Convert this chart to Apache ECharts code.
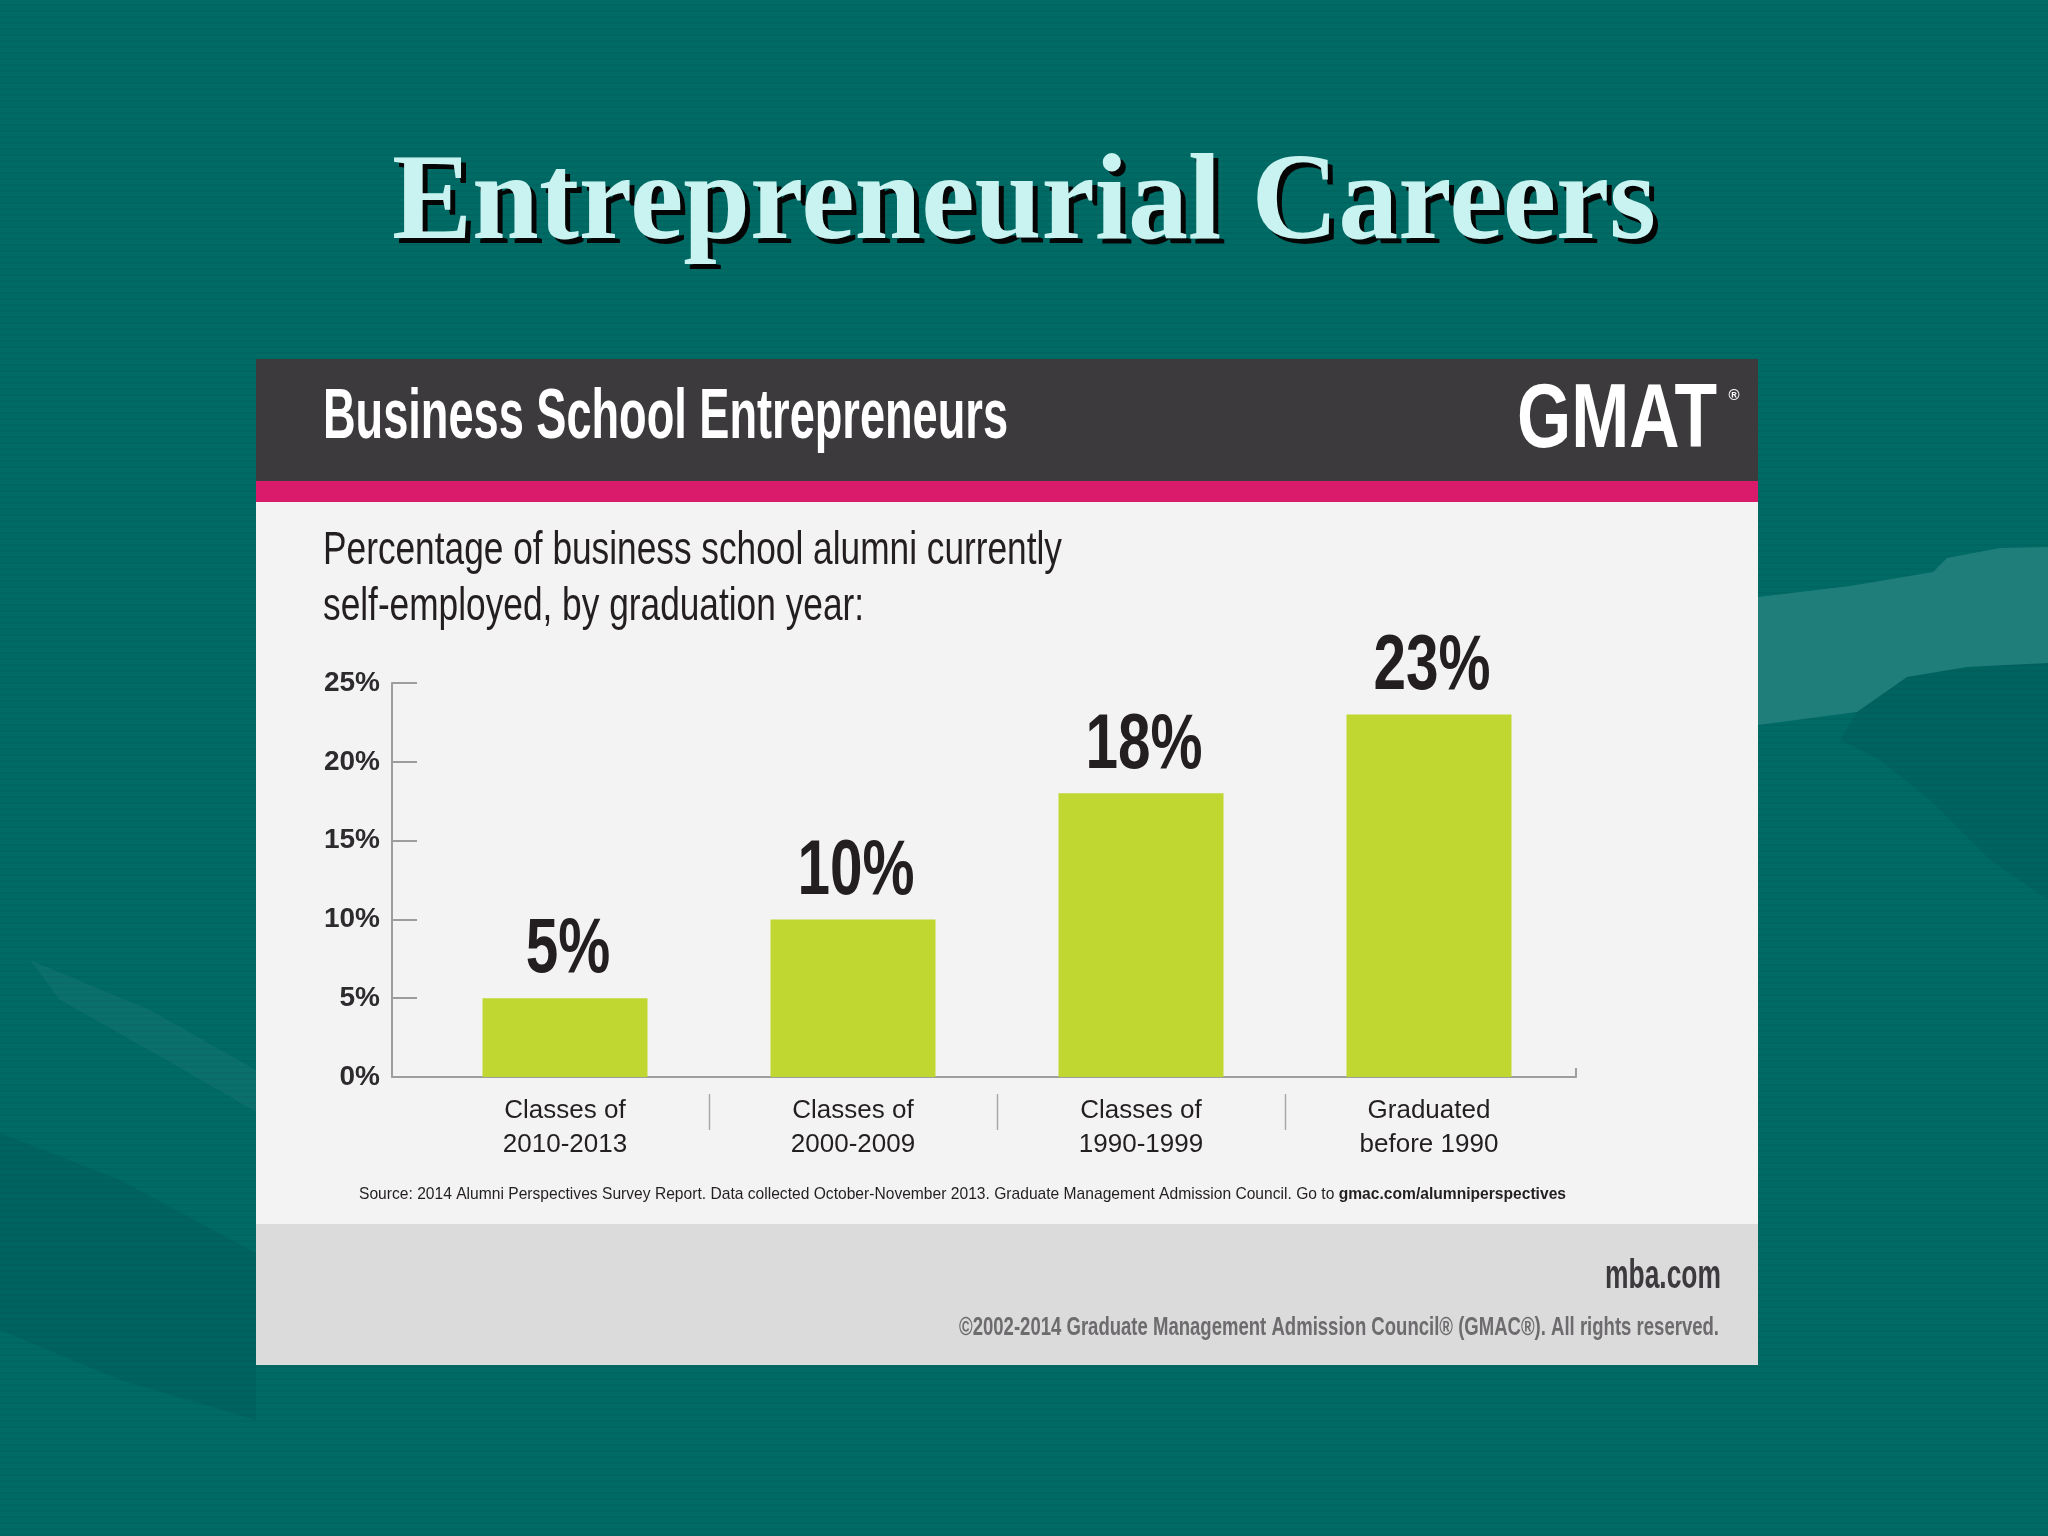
<!DOCTYPE html>
<html><head><meta charset="utf-8">
<style>
html,body{margin:0;padding:0;width:2048px;height:1536px;overflow:hidden;background:#006a65;}
#bg{position:absolute;left:0;top:0;width:2048px;height:1536px;background:repeating-linear-gradient(to bottom, rgba(0,0,0,0) 0px, rgba(0,0,0,0) 4px, rgba(0,0,0,0.045) 4px, rgba(0,0,0,0.045) 6px);}
#chart{position:absolute;left:0;top:0;width:2048px;height:1536px;}
</style>
<script src="https://cdn.jsdelivr.net/npm/echarts@6/dist/echarts.min.js"></script>
</head><body><div id="bg"></div><div id="chart"></div>
<script>
// ---- data ----
const categories = ['Classes of\n2010-2013', 'Classes of\n2000-2009', 'Classes of\n1990-1999', 'Graduated\nbefore 1990'];
const selfEmployedPct = [5, 10, 18, 23];
const yTicks = [0, 5, 10, 15, 20, 25];
const titleText = 'Entrepreneurial Careers';
const headerText = 'Business School Entrepreneurs';
const logoText = 'GMAT';
const subtitleLines = ['Percentage of business school alumni currently', 'self-employed, by graduation year:'];
const sourceText = 'Source: 2014 Alumni Perspectives Survey Report. Data collected October-November 2013. Graduate Management Admission Council. Go to ';
const sourceLink = 'gmac.com/alumniperspectives';
const siteText = 'mba.com';
const copyrightText = '\u00a92002-2014 Graduate Management Admission Council\u00ae (GMAC\u00ae). All rights reserved.';

// ---- helpers ----
const cv = document.createElement('canvas').getContext('2d');
function textW(t, font) { cv.font = font; return cv.measureText(t).width; }
function fontAvailable(f) {
  const s = 'abcdefghijklmnopqrstuvwxyz0123456789';
  cv.font = '40px monospace'; const a = cv.measureText(s).width;
  cv.font = '40px "' + f + '", monospace'; const b = cv.measureText(s).width;
  return Math.abs(a - b) > 0.5;
}
const hasNarrow = fontAvailable('Liberation Sans Narrow');
const axisFamily = hasNarrow ? '"Liberation Sans Narrow", "Liberation Sans", Arial, sans-serif' : '"Liberation Sans", Arial, sans-serif';
const SANS = '"Liberation Sans", Arial, sans-serif';
function fit(t, font, w) { return w / textW(t, font); }

const titleFont = 'bold 122px "Liberation Serif", "Times New Roman", serif';
const headerFont = 'bold 70px ' + SANS;
const logoFont = 'bold 91px ' + SANS;
const subFont = '46px ' + SANS;
const srcFont = '17px ' + SANS;
const srcBoldFont = 'bold 17px ' + SANS;
const siteFont = 'bold 40px ' + SANS;
const copyFont = 'bold 25px ' + SANS;
const valueFont = 'bold 77px ' + SANS;

const subScale = fit(subtitleLines[0], subFont, 739);
const srcScale = 1207 / (textW(sourceText, srcFont) + textW(sourceLink, srcBoldFont));
const titleScale = fit(titleText, titleFont, 1264);

const chart = echarts.init(document.getElementById('chart'), null, {renderer: 'canvas'});

const graphics = [
  // background swooshes (right)
  {type: 'polygon', z: -20, shape: {points: [[1758, 597], [1850, 586], [1933, 572], [1947, 558], [2000, 548], [2048, 547], [2048, 663], [1967, 667], [1907, 677], [1857, 712], [1758, 725]]}, style: {fill: '#1f7e79'}},
  {type: 'polygon', z: -20, shape: {points: [[1857, 712], [1907, 677], [1967, 667], [2048, 663], [2048, 900], [1990, 860], [1930, 800], [1880, 760], [1840, 740]]}, style: {fill: 'rgba(0,0,0,0.06)'}},
  // left swooshes
  {type: 'polygon', z: -20, shape: {points: [[30, 960], [150, 1010], [256, 1070], [256, 1112], [170, 1062], [60, 1000]]}, style: {fill: 'rgba(255,255,255,0.045)'}},
  {type: 'polygon', z: -20, shape: {points: [[0, 1133], [120, 1180], [256, 1253], [256, 1420], [120, 1380], [0, 1330]]}, style: {fill: 'rgba(0,0,0,0.06)'}},
  // card
  {type: 'rect', z: -10, shape: {x: 256, y: 359, width: 1502, height: 1006}, style: {fill: '#f3f3f3'}},
  {type: 'rect', z: -9, shape: {x: 256, y: 359, width: 1502, height: 122}, style: {fill: '#3d3a3d'}},
  {type: 'rect', z: -9, shape: {x: 256, y: 481, width: 1502, height: 21}, style: {fill: '#da1b6b'}},
  {type: 'rect', z: -9, shape: {x: 256, y: 1224, width: 1502, height: 141}, style: {fill: '#dcdbdc'}},
  // slide title (shadow + text)
  {type: 'text', x: 1029, y: 211, scaleX: titleScale,
    style: {text: titleText, font: titleFont, fill: '#050505', align: 'center', verticalAlign: 'middle'}},
  {type: 'text', x: 1024, y: 206, scaleX: titleScale,
    style: {text: titleText, font: titleFont, fill: '#c8f3f0', align: 'center', verticalAlign: 'middle'}},
  // header
  {type: 'text', x: 323, y: 419, scaleX: fit(headerText, headerFont, 685),
    style: {text: headerText, font: headerFont, fill: '#ffffff', align: 'left', verticalAlign: 'middle'}},
  {type: 'text', x: 1517, y: 422, scaleX: fit(logoText, logoFont, 200),
    style: {text: logoText, font: logoFont, fill: '#ffffff', align: 'left', verticalAlign: 'middle'}},
  {type: 'text', x: 1734, y: 396, style: {text: '\u00ae', font: 'bold 15px ' + SANS, fill: '#ffffff', align: 'center', verticalAlign: 'middle'}},
  // subtitle
  {type: 'text', x: 323, y: 551, scaleX: subScale,
    style: {text: subtitleLines[0], font: subFont, fill: '#231f20', align: 'left', verticalAlign: 'middle'}},
  {type: 'text', x: 323, y: 607, scaleX: subScale,
    style: {text: subtitleLines[1], font: subFont, fill: '#231f20', align: 'left', verticalAlign: 'middle'}},
  // source
  {type: 'text', x: 359, y: 1194, scaleX: srcScale,
    style: {text: '{n|' + sourceText + '}{b|' + sourceLink + '}', align: 'left', verticalAlign: 'middle',
      rich: {n: {font: srcFont, fill: '#231f20'}, b: {font: srcBoldFont, fill: '#231f20'}}}},
  // footer
  {type: 'text', x: 1721, y: 1277, scaleX: fit(siteText, siteFont, 116),
    style: {text: siteText, font: siteFont, fill: '#3d3a3d', align: 'right', verticalAlign: 'middle'}},
  {type: 'text', x: 1719, y: 1328, scaleX: fit(copyrightText, copyFont, 760),
    style: {text: copyrightText, font: copyFont, fill: '#6d6b6d', align: 'right', verticalAlign: 'middle'}}
];

const AXIS_GRAY = '#9d9d9d';
const option = {
  backgroundColor: 'transparent',
  animation: false,
  graphic: {elements: graphics},
  grid: [
    {left: 392, top: 683, width: 1184, height: 394},
    {left: 421, top: 683, width: 1152, height: 394}
  ],
  xAxis: [
    {gridIndex: 0, type: 'value', min: 0, max: 1, interval: 1,
      axisLine: {show: true, lineStyle: {color: AXIS_GRAY, width: 2}},
      axisTick: {show: true, inside: true, length: 9, lineStyle: {color: AXIS_GRAY, width: 2}},
      axisLabel: {show: false}, splitLine: {show: false}},
    {gridIndex: 1, type: 'category', data: categories, offset: 17,
      axisLine: {show: false}, axisTick: {show: false}, splitLine: {show: false},
      axisLabel: {interval: 0, margin: 0, fontFamily: axisFamily, fontSize: hasNarrow ? 30 : 26,
        color: '#231f20', lineHeight: 34}}
  ],
  yAxis: [
    {gridIndex: 0, type: 'value', min: yTicks[0], max: yTicks[yTicks.length - 1], interval: yTicks[1] - yTicks[0],
      axisLine: {show: true, lineStyle: {color: AXIS_GRAY, width: 2}},
      axisTick: {show: true, inside: true, length: 25, lineStyle: {color: AXIS_GRAY, width: 2}},
      splitLine: {show: false},
      axisLabel: {formatter: v => v + '%', margin: 12, fontFamily: axisFamily, fontWeight: 'bold',
        fontSize: hasNarrow ? 33 : 28, color: '#2e2b2e'}},
    {gridIndex: 1, type: 'value', min: yTicks[0], max: yTicks[yTicks.length - 1], interval: yTicks[1] - yTicks[0], show: false}
  ],
  series: [
    {type: 'bar', xAxisIndex: 1, yAxisIndex: 1, data: selfEmployedPct, barWidth: 165,
      itemStyle: {color: '#bfd730'}, z: 2},
    {type: 'custom', xAxisIndex: 1, yAxisIndex: 1, z: 3,
      data: selfEmployedPct.map((v, i) => [i, v]),
      encode: {x: 0, y: 1},
      renderItem: function (params, api) {
        const p = api.coord([api.value(0), api.value(1)]);
        const t = api.value(1) + '%';
        return {type: 'text', x: p[0] + 3, y: p[1] - 47, scaleX: 0.76,
          style: {text: t, font: valueFont, fill: '#231f20', align: 'center', verticalAlign: 'middle'}};
      }},
    {type: 'custom', xAxisIndex: 1, yAxisIndex: 1, z: 3,
      data: categories.slice(1).map((c, i) => [i + 1, 0]),
      encode: {x: 0, y: 1},
      renderItem: function (params, api) {
        const c = api.coord([api.value(0), 0]);
        const bw = api.size([1, 0])[0];
        const x = Math.round(c[0] - bw / 2) + 0.5;
        return {type: 'line', shape: {x1: x, y1: c[1] + 17, x2: x, y2: c[1] + 53},
          style: {stroke: '#a8a8a8', lineWidth: 1.5}};
      }}
  ]
};
chart.setOption(option);
</script>
</body></html>
